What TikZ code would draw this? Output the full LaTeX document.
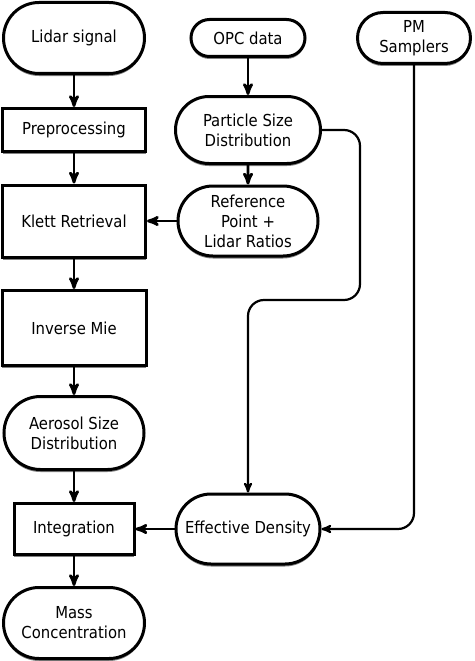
\documentclass[tikz,border=0pt]{standalone}
\usepackage{fontspec}
\setmainfont{DejaVu Sans Condensed}
\usepackage{tikz}
\usetikzlibrary{shapes.misc, shadows, positioning}
\usetikzlibrary{arrows}

\begin{document}
\begin{tikzpicture}[->,>=stealth',line width=2.8pt,node distance=92pt,
                    font=\fontsize{16.5}{20}\selectfont]
  \tikzstyle{term}=[rounded rectangle,draw=black,fill=white,line width=3pt,
                    align=center,inner sep=1pt,
                    drop shadow={shadow xshift=0pt,shadow yshift=-2.5pt,fill=black!55,opacity=0.9}]
  \tikzstyle{proc}=[rectangle,draw=black,fill=white,line width=3pt,
                    align=center,inner sep=1pt,
                    drop shadow={shadow xshift=0pt,shadow yshift=-2.5pt,fill=black!55,opacity=0.9}]
  \useasboundingbox (0,0) rectangle (474pt,-661pt);

  % left column
  \node[term,minimum width=143pt,minimum height=71pt] (ls) at (74pt,-38pt) {Lidar signal};
  \node[proc,minimum width=143pt,minimum height=43pt] (pre) [below of=ls] {Preprocessing};
  \node[proc,minimum width=143pt,minimum height=72pt] (kl)  [below of=pre, node distance=91pt] {Klett Retrieval};
  \node[proc,minimum width=144pt,minimum height=75pt] (mie) [below of=kl, node distance=107pt] {Inverse Mie};
  \node[term,minimum width=142pt,minimum height=73pt] (asd) [below of=mie, node distance=105pt] {Aerosol Size\\Distribution};
  \node[proc,minimum width=120pt,minimum height=51pt] (int) [below of=asd, node distance=96pt] {Integration};
  \node[term,minimum width=143pt,minimum height=71pt] (mc)  [below of=int, node distance=94pt] {Mass\\Concentration};

  % middle and right
  \node[term,minimum width=116pt,minimum height=37pt] (opc) [right of=ls, node distance=174pt] {OPC data};
  \node[term,minimum width=147pt,minimum height=67pt] (psd) [below of=opc] {Particle Size\\Distribution};
  \node[term,minimum width=142pt,minimum height=70pt] (ref) [below of=psd, node distance=91pt] {Reference\\Point +\\Lidar Ratios};
  \node[term,minimum width=146pt,minimum height=70pt] (ed)  [right of=int, node distance=174pt] {Effective Density};
  \node[term,minimum width=115pt,minimum height=51pt] (pm)  [right of=opc, node distance=166pt] {PM\\Samplers};

  \path (ls)  edge (pre)
        (pre) edge (kl)
        (kl)  edge (mie)
        (mie) edge (asd)
        (asd) edge (int)
        (int) edge (mc)
        (opc) edge (psd)
        (psd) edge (ref)
        (ref) edge (kl)
        (ed)  edge (int);

  \draw[line width=2.2pt,rounded corners=16pt] (psd.east) -| ++(38pt,-170pt) -| (ed.north);
  \draw[line width=2.2pt,rounded corners=16pt] (pm.south) |- (ed.east);
\end{tikzpicture}
\end{document}
